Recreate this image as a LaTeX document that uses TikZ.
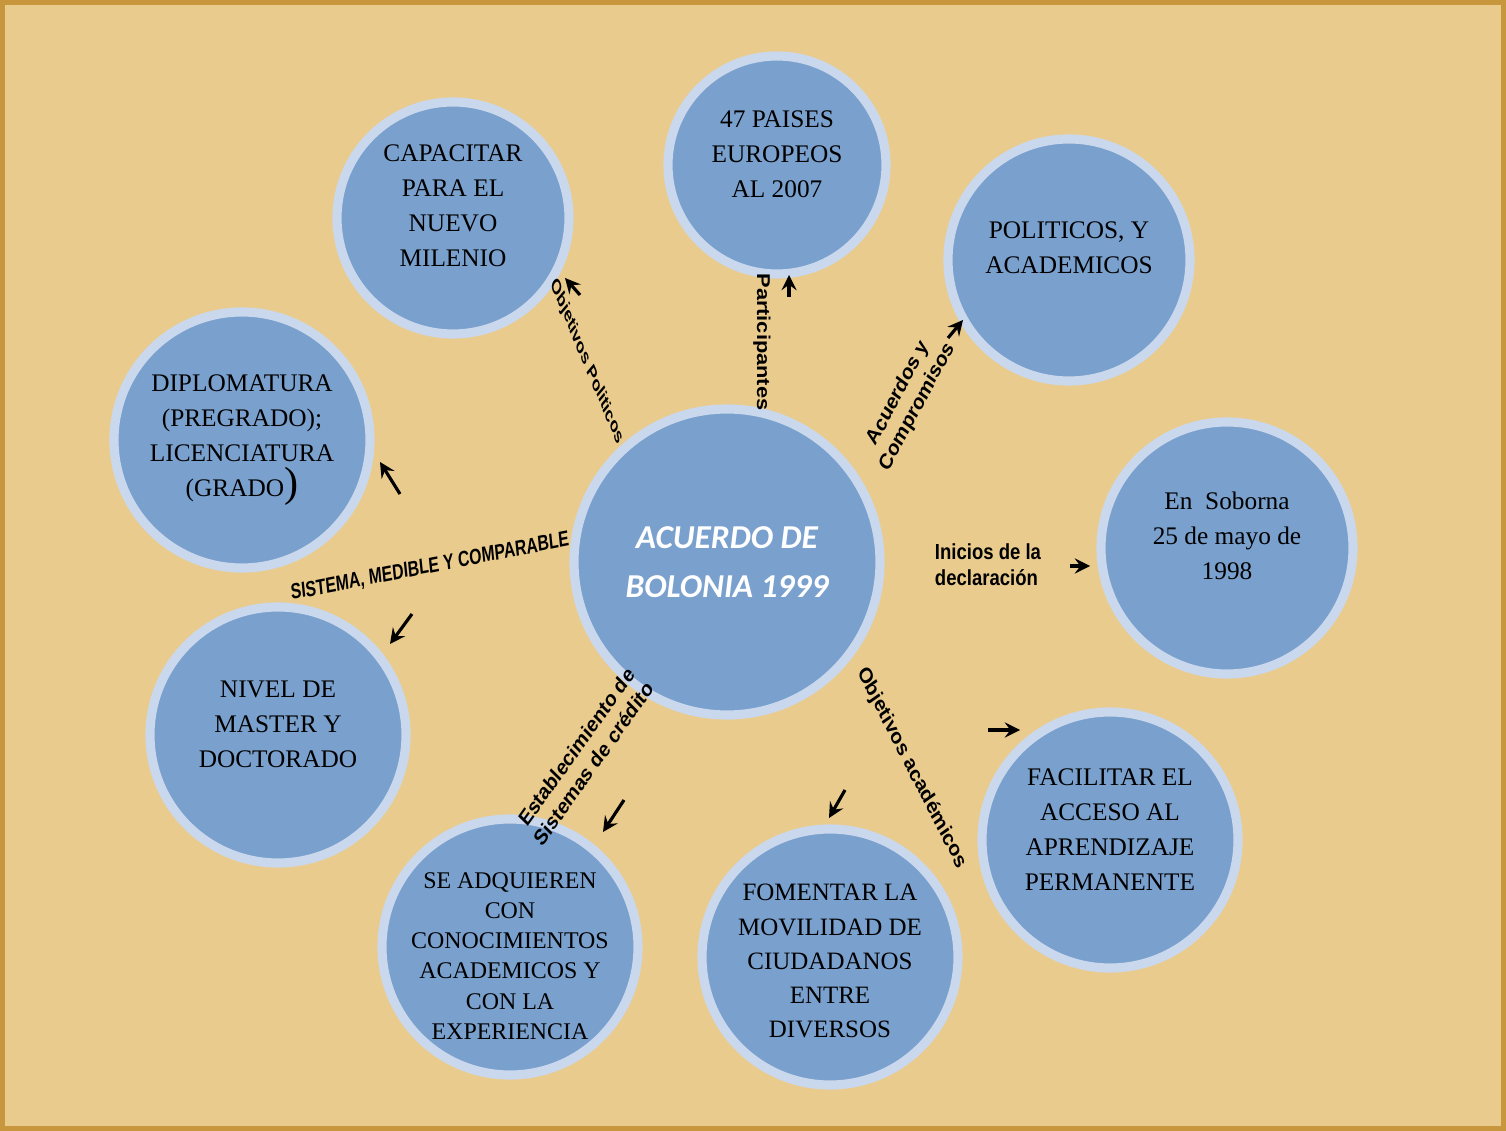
\documentclass[tikz,border=0pt]{standalone}
\usepackage{fontspec}
\setmainfont{Liberation Serif}
\newfontfamily\lblfont{Liberation Sans}
\newfontfamily\cfont{Carlito}
\begin{document}
\begin{tikzpicture}[x=0.01cm,y=-0.01cm,
  bub/.style={circle,fill=bubfill,draw=bubring,line width=2.6pt,minimum size={#1*0.01cm},inner sep=0pt,align=center,font=\fontsize{7.2}{10}\selectfont},
  lbl/.style={font=\lblfont\bfseries\fontsize{6.2}{7.4}\selectfont,align=center,xscale=0.85},
  arr/.style={->,>=stealth,line width=0.9pt}]
\definecolor{bubfill}{HTML}{7AA0CD}
\definecolor{bubring}{HTML}{C9D8EC}
\definecolor{bg}{HTML}{EACB8E}
\definecolor{frame}{HTML}{C8963C}
\useasboundingbox (0,0) rectangle (1506,1131);
\fill[bg] (0,0) rectangle (1506,1131);
\draw[frame,line width=1.6pt] (2,2) rectangle (1504,1129);
\node[bub=306] (c) at (727,562) {\cfont\bfseries\itshape\color{white}\fontsize{9.5}{14}\selectfont ACUERDO DE\\[4pt]\cfont\bfseries\itshape\color{white}\fontsize{9.5}{14}\selectfont BOLONIA 1999};
\node[bub=218] (p) at (777,165) {47 PAISES\\EUROPEOS\\AL 2007\\[-4pt]};
\node[bub=232] (cap) at (453,218) {CAPACITAR\\PARA EL\\NUEVO\\MILENIO\\[-3pt]};
\node[bub=242] (pol) at (1069,260) {POLITICOS, Y\\ACADEMICOS\\[-3pt]};
\node[bub=256] (dip) at (242,440) {DIPLOMATURA\\(PREGRADO);\\LICENCIATURA\\(GRADO{\large)}};
\node[bub=252] (sob) at (1227,548) {En~ Soborna\\25 de mayo de\\1998\\[-3pt]};
\node[bub=256] (niv) at (278,735) {NIVEL DE\\MASTER Y\\DOCTORADO\\[-4pt]};
\node[bub=256] (fac) at (1110,840) {FACILITAR EL\\ACCESO AL\\APRENDIZAJE\\PERMANENTE\\[-4pt]};
\node[bub=256] (se) at (510,947) {};
\node[bub=256] (fom) at (830,957) {};
\begin{scope}
\clip (510,947) circle (120);
\node[align=center,font=\fontsize{6.8}{8.6}\selectfont,anchor=north] at (510,860) {SE ADQUIEREN\\CON\\CONOCIMIENTOS\\ACADEMICOS Y\\CON LA\\EXPERIENCIA};
\end{scope}
\begin{scope}
\clip (830,957) circle (122);
\node[align=center,font=\fontsize{7.1}{9.7}\selectfont,anchor=north] at (830,872) {FOMENTAR LA\\MOVILIDAD DE\\CIUDADANOS\\ENTRE\\DIVERSOS};
\end{scope}
% labels
\node[lbl,xscale=0.7,rotate=-55] (l1) at (587,362) {Objetivos Politicos};
\node[lbl,rotate=-90] (l2) at (762,342) {Participantes};
\node[lbl,rotate=58] (l3) at (908,400) {Acuerdos y\\Compromisos};
\node[lbl,xscale=0.85,rotate=8] (l4) at (430,567) {SISTEMA, MEDIBLE Y COMPARABLE};
\node[lbl,align=left] (l5) at (988,565) {Inicios de la\\declaración};
\node[lbl,rotate=50] (l6) at (585,755) {Establecimiento de\\Sistemas de crédito};
\node[lbl,rotate=-59] (l7) at (912,768) {Objetivos académicos};
% arrows
\coordinate (a1) at (580,295); \coordinate (b1) at (565,278);
\draw[arr] (a1) -- (b1);
\coordinate (a2) at (789,297); \coordinate (b2) at (789,275);
\draw[arr] (a2) -- (b2);
\coordinate (a3) at (948,338); \coordinate (b3) at (963,320);
\draw[arr] (a3) -- (b3);
\coordinate (a4) at (400,494); \coordinate (b4) at (380,462);
\draw[arr] (a4) -- (b4);
\coordinate (a5) at (412,614); \coordinate (b5) at (390,644);
\draw[arr] (a5) -- (b5);
\coordinate (a6) at (1070,566); \coordinate (b6) at (1090,566);
\draw[arr] (a6) -- (b6);
\coordinate (a7) at (988,730); \coordinate (b7) at (1020,730);
\draw[arr] (a7) -- (b7);
\coordinate (a8) at (845,790); \coordinate (b8) at (829,818);
\draw[arr] (a8) -- (b8);
\coordinate (a9) at (624,800); \coordinate (b9) at (603,832);
\draw[arr] (a9) -- (b9);
\end{tikzpicture}
\end{document}
